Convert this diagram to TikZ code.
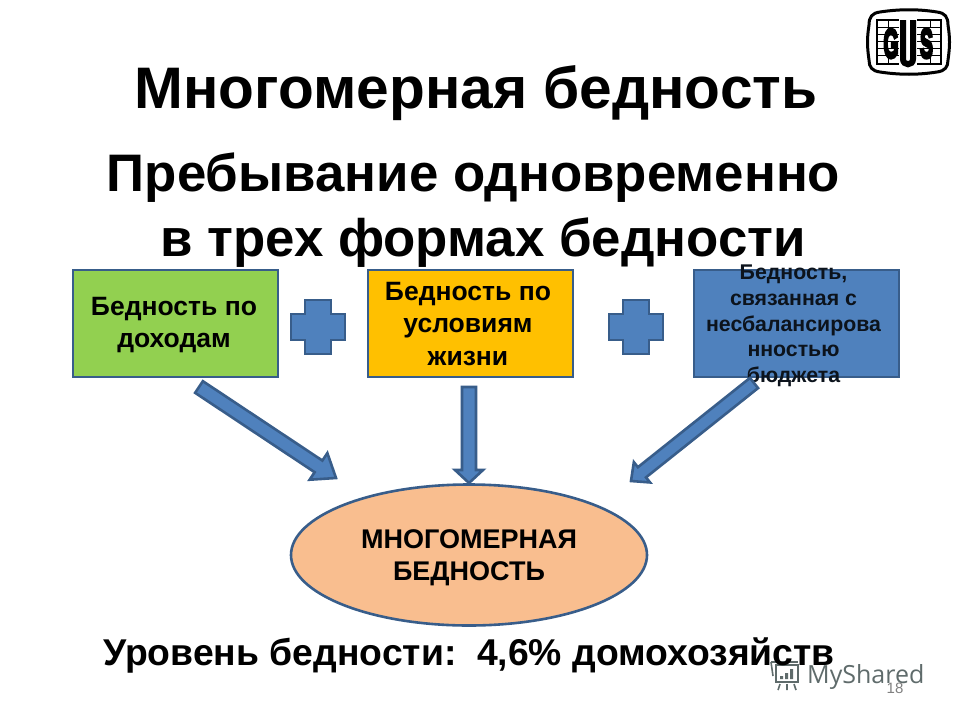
\documentclass[tikz,border=0pt]{standalone}
\usepackage{fontspec}
\setmainfont{Liberation Sans}
\newfontfamily\wmfont{Open Sans}
\newfontfamily\logofont[FakeBold=8]{Liberation Sans Bold}
\usetikzlibrary{calc,shapes.geometric}
\definecolor{edgeblue}{HTML}{385D8A}
\definecolor{fillblue}{HTML}{4F81BD}
\definecolor{fillgreen}{HTML}{92D050}
\definecolor{fillorange}{HTML}{FFC000}
\definecolor{fillpeach}{HTML}{F9BE8F}
\definecolor{wmgray}{HTML}{5F6B6B}
\tikzset{
  x=1pt,y=-1pt,
  card/.style={draw=edgeblue,line width=2.6pt,minimum width=205pt,minimum height=107pt,inner sep=0pt},
  label/.style={font=\bfseries\fontsize{26.5}{32.3}\selectfont,align=center,text=black,inner sep=0pt},
  small/.style={font=\bfseries\fontsize{21.3}{25.7}\selectfont,align=center,text=black!85!fillblue,inner sep=0pt},
  heading/.style={font=\bfseries\fontsize{#1}{#1}\selectfont,anchor=base,inner sep=0pt,text=black},
  heavy/.style={fill=fillblue,draw=edgeblue,line width=2.6pt,line join=miter},
  logoletter/.style={font=\logofont\fontsize{#1}{#1}\selectfont,text=black,inner sep=0pt},
}
% block arrow: start, end, half shaft, half head, head length
\newcommand{\blockarrow}[5]{%
  \path let \p1=($(#2)-(#1)$) in
   coordinate (u) at ($(0,0)!1pt!(\x1,\y1)$)
   coordinate (v) at ($(0,0)!1pt!90:(\x1,\y1)$);
  \draw[heavy] ($(#1)+#3*(v)$) -- ($(#2)-#5*(u)+#3*(v)$) -- ($(#2)-#5*(u)+#4*(v)$) -- (#2)
     -- ($(#2)-#5*(u)-#4*(v)$) -- ($(#2)-#5*(u)-#3*(v)$) -- ($(#1)-#3*(v)$) -- cycle;
}
\newcommand{\crossmark}[2]{%
  \draw[heavy] ($(#1)+(-#2,-13)$) -- ($(#1)+(-13,-13)$) -- ($(#1)+(-13,-#2)$) -- ($(#1)+(13,-#2)$)
   -- ($(#1)+(13,-13)$) -- ($(#1)+(#2,-13)$) -- ($(#1)+(#2,13)$) -- ($(#1)+(13,13)$)
   -- ($(#1)+(13,#2)$) -- ($(#1)+(-13,#2)$) -- ($(#1)+(-13,13)$) -- ($(#1)+(-#2,13)$) -- cycle;
}
\begin{document}
\begin{tikzpicture}
\useasboundingbox (0,0) rectangle (960,720);
\fill[white] (0,0) rectangle (960,720);

% headings
\node[heading=58.6] (title) at (476,108) {Многомерная бедность};
\node[heading=52.8] (sub1) at (473.5,191) {Пребывание одновременно};
\node[heading=52.8] (sub2) at (483,256) {в трех формах бедности};

% boxes
\node[card,fill=fillgreen,anchor=north west] (b1) at (71.5,268.5) {};
\node[label] at (174,325) {Бедность по\\доходам};
\node[card,fill=fillorange,anchor=north west] (b2) at (366.5,268.5) {};
\node[label] at (468,324) {Бедность по\\условиям\\жизни};
\node[card,fill=fillblue,anchor=north west] (b3) at (692.5,268.5) {};
\node[small] at (793.5,326) {Бедность,\\связанная с\\несбалансирова\\нностью\\бюджета};

% pluses
\coordinate (p1) at (318,327);
\coordinate (p2) at (636,327);
\crossmark{p1}{27}
\crossmark{p2}{27}

% ellipse
\node[ellipse,draw=edgeblue,line width=2.6pt,fill=fillpeach,minimum width=356pt,minimum height=141pt,inner sep=0pt] (goal) at (469,555) {};
\node[label,font=\bfseries\fontsize{27}{32.3}\selectfont] at (469,558) {МНОГОМЕРНАЯ\\БЕДНОСТЬ};

% arrows
\coordinate (a1s) at (199,387); \coordinate (a1e) at (336,478);
\coordinate (a2s) at (469,387); \coordinate (a2e) at (469,483);
\coordinate (a3s) at (754,383); \coordinate (a3e) at (631,481);
\blockarrow{a1s}{a1e}{7}{16}{21}
\blockarrow{a2s}{a2e}{7}{14}{13}
\blockarrow{a3s}{a3e}{6.5}{13}{14}

% watermark
\node[font=\wmfont\fontsize{25}{25}\selectfont,text=wmgray,anchor=base west,inner sep=0pt] (wm) at (807,683) {MyShared};
\begin{scope}[draw=wmgray,line width=1.6pt]
  \draw (771,662) -- (798,662);
  \draw (776,665) rectangle (798,682);
  \draw (771,662) -- (773,676);
  \draw (780,684) -- (778,690) (787,684) -- (787,690) (794,684) -- (796,690);
  \fill[wmgray] (780,676) rectangle (783,679) (785,673) rectangle (788,679) (790,669) rectangle (793,679);
\end{scope}
\node[font=\fontsize{15}{15}\selectfont,text=gray,anchor=base,inner sep=0pt] (num) at (895,693) {18};

% bottom line
\node[heading=37.3] (lvl) at (469,665) {Уровень бедности:\ \ 4,6\% домохозяйств};

% logo
\draw[line width=3pt,black] (880,12) .. controls (900,9) and (918,9) .. (937,12) .. controls (945,13) and (948,17) .. (948,25) .. controls (950,38) and (950,46) .. (948,60) .. controls (948,67) and (945,71) .. (937,72) .. controls (918,75) and (900,75) .. (880,72) .. controls (872,71) and (869,67) .. (869,60) .. controls (867,46) and (867,38) .. (869,25) .. controls (869,17) and (872,13) .. (880,12) -- cycle;
\draw[line width=1.2pt,black] (877,20) rectangle (941,64);
\foreach \yy in {27,34,41,48,55} \draw[line width=.8pt,black] (877,\yy) -- (941,\yy);
\foreach \xx in {888,930} \draw[line width=.8pt,black] (\xx,20) -- (\xx,27) (\xx,55) -- (\xx,64);
\fill[white] (899,19) rectangle (917,68);
\node[logoletter=41,xscale=.47] (g) at (891,43.5) {G};
\draw[line width=6pt,black] (903,20) -- (903,59) .. controls (903,66) and (913,66) .. (913,59) -- (913,20);
\node[logoletter=41,xscale=.47] (s) at (926.5,43.5) {S};
\end{tikzpicture}
\end{document}
